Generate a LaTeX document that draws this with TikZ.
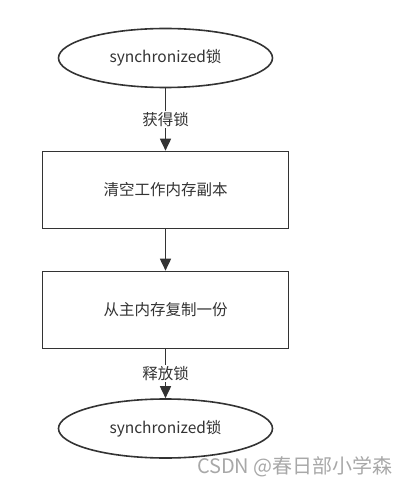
\documentclass[tikz,border=0pt]{standalone}
\usepackage{fontspec}
\setmainfont{Noto Sans CJK SC}
\usetikzlibrary{shapes.geometric,arrows.meta}
\definecolor{linegray}{HTML}{333333}
\definecolor{markgray}{HTML}{A8A8A8}

\begin{document}
\begin{tikzpicture}[x=1pt, y=-1pt, font=\fontsize{15.5}{18}\selectfont,
  lock/.style={ellipse, draw=linegray, line width=1.6pt, text=linegray, minimum width=214pt, minimum height=59pt, inner sep=0pt},
  act/.style={rectangle, draw=linegray, line width=1.6pt, text=linegray, minimum width=246pt, minimum height=77pt},
  flow/.style={draw=linegray, line width=1.6pt, -{Triangle[length=12pt, width=11pt]}},
  lbl/.style={fill=white, text=linegray, inner sep=1.5pt}]
\useasboundingbox (0,0) rectangle (408,486);

\node[lock] (get) at (165.5,58) {synchronized锁};
\node[act] (clear) at (165.5,190) {清空工作内存副本};
\node[act] (copy) at (165.5,310) {从主内存复制一份};
\node[lock] (release) at (165.5,428.5) {synchronized锁};

\draw[flow] (get) -- node[lbl] {获得锁} (clear);
\draw[flow] (clear) -- (copy);
\draw[flow] (copy) -- node[lbl] {释放锁} (release);

\node[text=markgray, anchor=east, inner sep=0pt, font=\fontsize{20}{24}\selectfont] (mark) at (393,467) {CSDN @春日部小学森};

\end{tikzpicture}
\end{document}
